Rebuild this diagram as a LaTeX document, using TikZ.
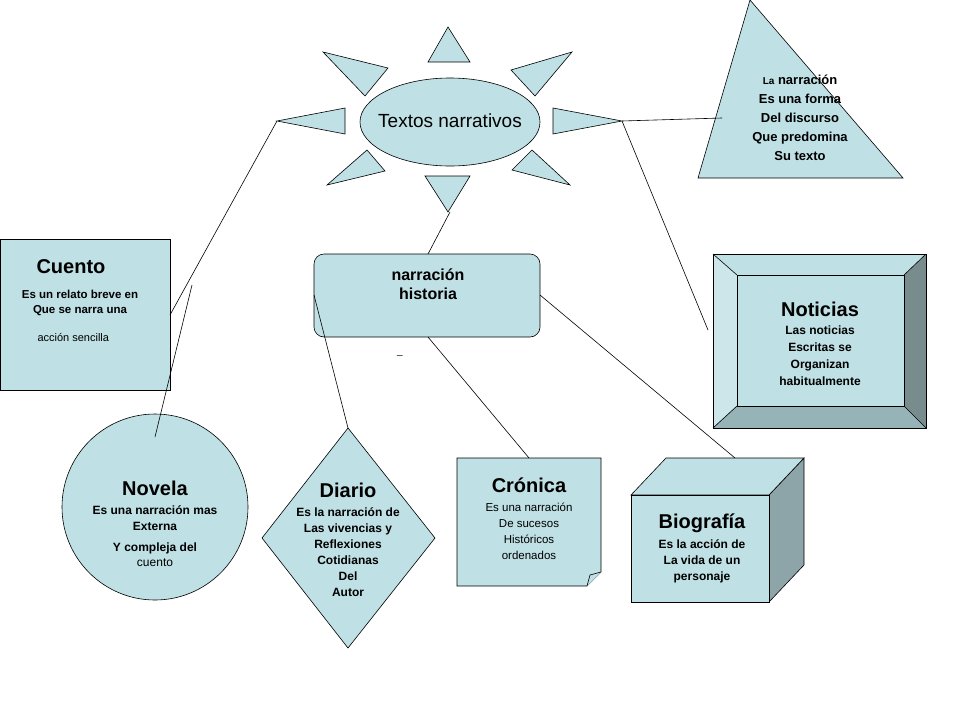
\documentclass[tikz,border=0pt]{standalone}
\usepackage{fontspec}
\setmainfont{Liberation Sans}
\usetikzlibrary{shapes.geometric}
\definecolor{fillc}{RGB}{191,224,228}
\definecolor{darkc}{RGB}{120,140,142}
\definecolor{midc}{RGB}{150,180,184}
\tikzset{shp/.style={draw=black,fill=fillc,line width=0.6pt},
 ln/.style={draw=black,line width=0.6pt},
 txt/.style={align=center,font=\bfseries\fontsize{12}{14}\selectfont},
 ttl/.style={font=\bfseries\fontsize{20}{22}\selectfont}}
\begin{document}
\begin{tikzpicture}[x=1pt,y=-1pt]
\useasboundingbox (0,0) rectangle (960,720);
% sun
\node[shp,ellipse,minimum width=180,minimum height=88] (sun) at (450,122) {};
\node[font=\fontsize{19}{21}\selectfont] (sunt) at (450,121) {Textos narrativos};
\draw[shp] (448,27)--(428,62)--(470,62)--cycle;
\draw[shp] (277,121)--(345,108)--(345,134)--cycle;
\draw[shp] (622,121)--(553,108)--(553,134)--cycle;
\draw[shp] (323,52)--(388,68)--(365,96)--cycle;
\draw[shp] (572,52)--(511,70)--(535,96)--cycle;
\draw[shp] (327,185)--(367,150)--(385,171)--cycle;
\draw[shp] (570,185)--(512,170)--(532,150)--cycle;
\draw[shp] (448,212)--(425,176)--(470,176)--cycle;
\coordinate (lt) at (277,121); \coordinate (rt) at (622,121);
\coordinate (bt) at (450,212);
% triangle
\draw[shp] (750,0)--(698,178)--(903,178)--cycle;
\node[txt,font=\bfseries\fontsize{13}{19}\selectfont] (tri) at (800,118) {{\fontsize{10}{12}\selectfont La} narración\\Es una forma\\Del discurso\\Que predomina\\Su texto};
% cuento
\draw[shp] (0,239) rectangle (170,390);
\node[ttl,anchor=west] (cu) at (33,267) {Cuento};
\node[align=center,font=\bfseries\fontsize{11.5}{15}\selectfont] (cub) at (80,303) {Es un relato breve en\\Que se narra una};
\node[font=\fontsize{11}{13}\selectfont,anchor=west] (cuc) at (34,337) {acción sencilla};
% narracion
\draw[shp,rounded corners=10] (314,254) rectangle (540,337);
\node[txt,font=\bfseries\fontsize{16}{19}\selectfont] (nar) at (428,284) {narración\\historia};
\node (dash) at (400,355) {\fontsize{10}{10}\selectfont\_};
% noticias
\fill[darkc] (713,254) rectangle (926,428);
\fill[fillc] (713,254)--(926,254)--(904,275)--(737,275)--cycle;
\fill[fillc!80!white] (713,254)--(737,275)--(737,406)--(713,428)--cycle;
\fill[midc] (713,428)--(737,406)--(904,406)--(926,428)--cycle;
\draw[ln] (713,254) rectangle (926,428);
\draw[shp] (737,275) rectangle (904,406);
\draw[ln] (713,254)--(737,275) (926,254)--(904,275) (713,428)--(737,406) (926,428)--(904,406);
\node[ttl] (not) at (820,309) {Noticias};
\node[txt,font=\bfseries\fontsize{12}{17}\selectfont] (notb) at (820,356) {Las noticias\\Escritas se\\Organizan\\habitualmente};
% novela
\node[shp,circle,minimum size=186] (nov) at (155,507) {};
\node[ttl] (novt) at (155,488) {Novela};
\node[txt,font=\bfseries\fontsize{12}{16}\selectfont] (novb) at (155,518) {Es una narración mas\\Externa};
\node[txt,font=\bfseries\fontsize{12}{15}\selectfont] (novc) at (155,555) {Y compleja del\\{\mdseries cuento}};
% diario
\draw[shp] (348,428)--(435,538)--(348,648)--(262,538)--cycle;
\node[ttl] (dia) at (348,490) {Diario};
\node[txt,font=\bfseries\fontsize{12}{16}\selectfont] (diab) at (348,552) {Es la narración de\\Las vivencias y\\Reflexiones\\Cotidianas\\Del\\Autor};
% cronica
\draw[shp] (457,458)--(601,458)--(601,572)--(587,586)--(457,586)--cycle;
\draw[ln,fill=fillc] (601,572)--(590,575)--(587,586);
\node[ttl] (cro) at (529,485) {Crónica};
\node[align=center,font=\fontsize{11.5}{16}\selectfont] (crob) at (529,531) {Es una narración\\De sucesos\\Históricos\\ordenados};
% biografia cube
\draw[shp,fill=darkc!70!fillc] (769,495)--(804,458)--(804,565)--(769,602)--cycle;
\draw[shp] (631,495)--(666,458)--(804,458)--(769,495)--cycle;
\draw[shp] (631,495) rectangle (769,602);
\node[ttl] (bio) at (702,523) {Biografía};
\node[txt,font=\bfseries\fontsize{12}{16}\selectfont] (biob) at (702,561) {Es la acción de\\La vida de un\\personaje};
% connectors
\coordinate (c1) at (170,315); \coordinate (c2) at (192,285); \coordinate (c3) at (155,437);
\coordinate (c4) at (722,118); \coordinate (c5) at (708,330);
\coordinate (n1) at (428,254); \coordinate (n2) at (314,295); \coordinate (n3) at (348,428);
\coordinate (n4) at (428,337); \coordinate (n5) at (529,458); \coordinate (n6) at (540,295); \coordinate (n7) at (735,458);
\draw[ln] (lt)--(c1);
\draw[ln] (c2)--(c3);
\draw[ln] (bt)--(n1);
\draw[ln] (rt)--(c4);
\draw[ln] (rt)--(c5);
\draw[ln] (n2)--(n3);
\draw[ln] (n4)--(n5);
\draw[ln] (n6)--(n7);
\end{tikzpicture}
\end{document}
